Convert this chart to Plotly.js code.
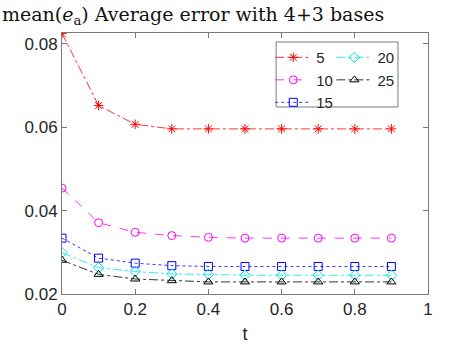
<!DOCTYPE html>
<html><head><meta charset="utf-8">
<script src="https://cdn.plot.ly/plotly-3.0.1.min.js"></script>
<style>html,body{margin:0;padding:0;background:#fff}#chart{width:474px;height:355px}</style>
</head><body><div id="chart"></div>
<script>
const t = [0, 0.1, 0.2, 0.3, 0.4, 0.5, 0.6, 0.7, 0.8, 0.9];
const seriesNames = ['5', '10', '15', '20', '25'];
const s5  = [0.0825, 0.0652, 0.0607, 0.0596, 0.0596, 0.0596, 0.0596, 0.0596, 0.0596, 0.0596];
const s10 = [0.0454, 0.0371, 0.0348, 0.0340, 0.0336, 0.0334, 0.0334, 0.0334, 0.0334, 0.0334];
const s15 = [0.0334, 0.0286, 0.0274, 0.0268, 0.0266, 0.0266, 0.0266, 0.0266, 0.0266, 0.0266];
const s20 = [0.0299, 0.0263, 0.0254, 0.0248, 0.0247, 0.0245, 0.0245, 0.0245, 0.0245, 0.0245];
const s25 = [0.0281, 0.0247, 0.0236, 0.0232, 0.0229, 0.0229, 0.0229, 0.0229, 0.0229, 0.0229];
const xTicks = [0, 0.2, 0.4, 0.6, 0.8, 1];
const yTicks = [0.02, 0.04, 0.06, 0.08];

const styles = [
  {c:'#ff0000', dash:'dashdot', sym:'asterisk-open', lg:'legend'},
  {c:'#ff00ff', dash:'dash', sym:'circle-open', lg:'legend'},
  {c:'#0000ff', dash:'dot', sym:'square-open', lg:'legend'},
  {c:'#00e5e5', dash:'dashdot', sym:'diamond-open', lg:'legend2'},
  {c:'#000000', dash:'dashdot', sym:'triangle-up-open', lg:'legend2'}
];
const allY = [s5, s10, s15, s20, s25];
const traces = allY.map((y, i) => ({
  x: t, y: y, name: seriesNames[i], type: 'scatter', mode: 'lines+markers',
  legend: styles[i].lg,
  line: {color: styles[i].c, dash: styles[i].dash, width: 0.8},
  marker: {symbol: styles[i].sym, size: 8, color: styles[i].c, line: {color: styles[i].c, width: 1}}
}));

const axisCommon = {
  showline: true, mirror: 'ticks', linecolor: '#7a7a7a', linewidth: 1,
  ticks: 'inside', ticklen: 5, tickcolor: '#7a7a7a', showgrid: false, zeroline: false,
  tickfont: {family: 'Liberation Sans, Arial', size: 17, color: '#262626'}
};
const legendCommon = {
  bgcolor: 'rgba(0,0,0,0)', borderwidth: 0, orientation: 'v',
  font: {family: 'Liberation Sans, Arial', size: 15, color: '#262626'},
  xanchor: 'left', yanchor: 'top', tracegroupgap: 0, itemwidth: 36
};
const layout = {
  width: 474, height: 355,
  margin: {l: 62, r: 46, t: 33, b: 61},
  paper_bgcolor: '#fff', plot_bgcolor: '#fff',
  title: {text: 'mean(<i>e</i><sub>a</sub>) Average error with 4+3 bases',
    font: {family: 'DejaVu Serif, Liberation Serif', size: 19, color: '#111'},
    xref: 'container', yref: 'container', x: 0.004, xanchor: 'left', y: 0.96, yanchor: 'middle'},
  xaxis: Object.assign({}, axisCommon, {range: [0, 1], tickvals: xTicks, ticktext: xTicks.map(String),
    title: {text: 't', font: {family: 'Liberation Sans, Arial', size: 18, color: '#262626'}, standoff: 8}}),
  yaxis: Object.assign({}, axisCommon, {range: [0.02, 0.0826], tickvals: yTicks, ticktext: yTicks.map(v => v.toFixed(2))}),
  legend: Object.assign({}, legendCommon, {x: 0.569, y: 0.969}),
  legend2: Object.assign({}, legendCommon, {x: 0.736, y: 0.969}),
  shapes: [{type: 'rect', xref: 'paper', yref: 'paper', x0: 0.585, x1: 0.918, y0: 0.7165, y1: 0.9655,
    line: {color: '#7a7a7a', width: 1}, fillcolor: 'rgba(0,0,0,0)'}]
};
Plotly.newPlot('chart', traces, layout, {displayModeBar: false, staticPlot: true});
</script></body></html>
